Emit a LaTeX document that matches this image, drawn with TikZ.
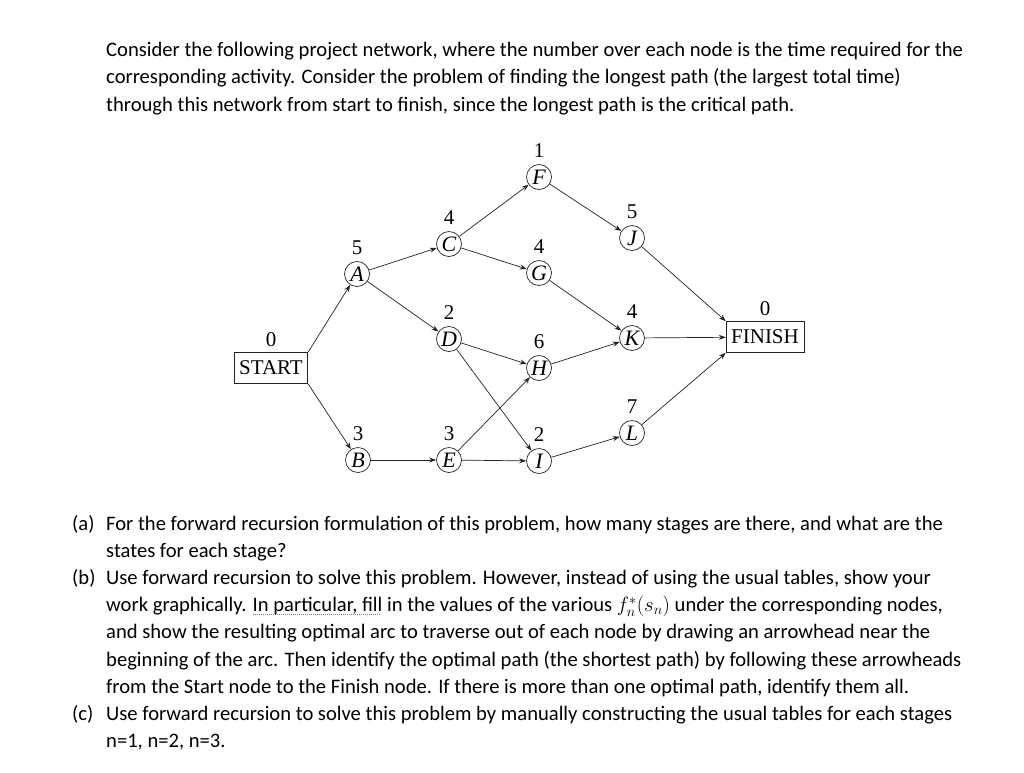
\documentclass[tikz,border=0pt]{standalone}
\usepackage{amsmath}
\usepackage{fontspec}
\setmainfont{Carlito}
\newfontfamily\netfont{Liberation Serif}
\usetikzlibrary{arrows.meta}

% dotted spell-check underline
\newcommand{\spellmark}[1]{%
  \setbox0\hbox{#1}%
  \rlap{\raisebox{-3pt}{\color{spellcol}\leaders\hbox to 2pt{\hss\rule{1pt}{1pt}\hss}\hskip\wd0}}%
  \box0\relax}

\begin{document}
\begin{tikzpicture}[x=1pt, y=-1pt]
  % Colors
  \definecolor{linecol}{RGB}{35,35,35}
  \definecolor{spellcol}{RGB}{110,110,215}
  %
  \def\ls{27.2}
  \def\tx{106}
  %
  \tikzset{
    act/.style={draw=linecol, line width=0.7pt, circle, minimum size=25pt, inner sep=0pt,
                font=\netfont\fontsize{22}{22}\selectfont\itshape},
    term/.style={draw=linecol, line width=0.7pt, minimum height=31pt, inner xsep=5pt, inner ysep=0pt,
                 font=\netfont\fontsize{21}{21}\selectfont},
    dur/.style={font=\netfont\fontsize{21}{21}\selectfont, inner sep=0pt},
    arc/.style={draw=linecol, line width=0.7pt, -{Stealth[length=7pt, width=5pt]}},
    txtline/.style={anchor=base west, inner sep=0pt, font=\fontsize{20.6}{27.2}\selectfont},
  }
  \useasboundingbox (0,0) rectangle (1024,772);
  %
  %%% INTRO TEXT %%%
  \foreach \n/\txt in {
    0/{Consider the following project network, where the number over each node is the time required for the},
    1/{corresponding activity. Consider the problem of finding the longest path (the largest total time)},
    2/{through this network from start to finish, since the longest path is the critical path.}%
  } {
    \node[txtline] (intro\n) at (\tx, {56.7+\n*\ls}) {\txt};
  }
  %
  %%% NETWORK %%%
  \node[term, label={[dur, label distance=5pt]above:0}] (START) at (271,368) {START};
  \node[term, label={[dur, label distance=5pt]above:0}] (FINISH) at (765,337) {FINISH};
  %
  \foreach \nm/\x/\y/\t in {
    A/357/274/5, B/358/460/3,
    C/449/244/4, D/449/339/2, E/449/460/3,
    F/539/177/1, G/539/273/4, H/539/368/6, I/539/461/2,
    J/632/238/5, K/632/338/4, L/632/433/7%
  } {
    \node[act, label={[dur, label distance=6.5pt]above:\t}] (\nm) at (\x,\y) {\nm};
  }
  %
  % Arcs
  \draw[arc] (START.north east) -- (A);
  \draw[arc] (START.south east) -- (B);
  \foreach \s/\e in {A/C, A/D, B/E, C/F, C/G, D/H, D/I, E/H, E/I, F/J, G/K, H/K, I/L} {
    \draw[arc] (\s) -- (\e);
  }
  \draw[arc] (J) -- (FINISH.north west);
  \draw[arc] (K) -- (FINISH);
  \draw[arc] (L) -- (FINISH.south west);
  %
  %%% QUESTIONS %%%
  \foreach \n/\txt in {
    0/{(a)}, 2/{(b)}, 7/{(c)}%
  } {
    \node[txtline] (item\n) at (72, {530+\n*\ls}) {\txt};
  }
  \foreach \n/\txt in {
    0/{For the forward recursion formulation of this problem, how many stages are there, and what are the},
    1/{states for each stage?},
    2/{Use forward recursion to solve this problem. However, instead of using the usual tables, show your},
    3/{work graphically. \spellmark{In particular, fill} in the values of the various $f_n^*(s_n)$ under the corresponding nodes,},
    4/{and show the resulting optimal arc to traverse out of each node by drawing an arrowhead near the},
    5/{beginning of the arc. Then identify the optimal path (the shortest path) by following these arrowheads},
    6/{from the Start node to the Finish node. If there is more than one optimal path, identify them all.},
    7/{Use forward recursion to solve this problem by manually constructing the usual tables for each stages},
    8/{n=1, n=2, n=3.}%
  } {
    \node[txtline] (line\n) at (\tx, {530+\n*\ls}) {\txt};
  }
\end{tikzpicture}
\end{document}
